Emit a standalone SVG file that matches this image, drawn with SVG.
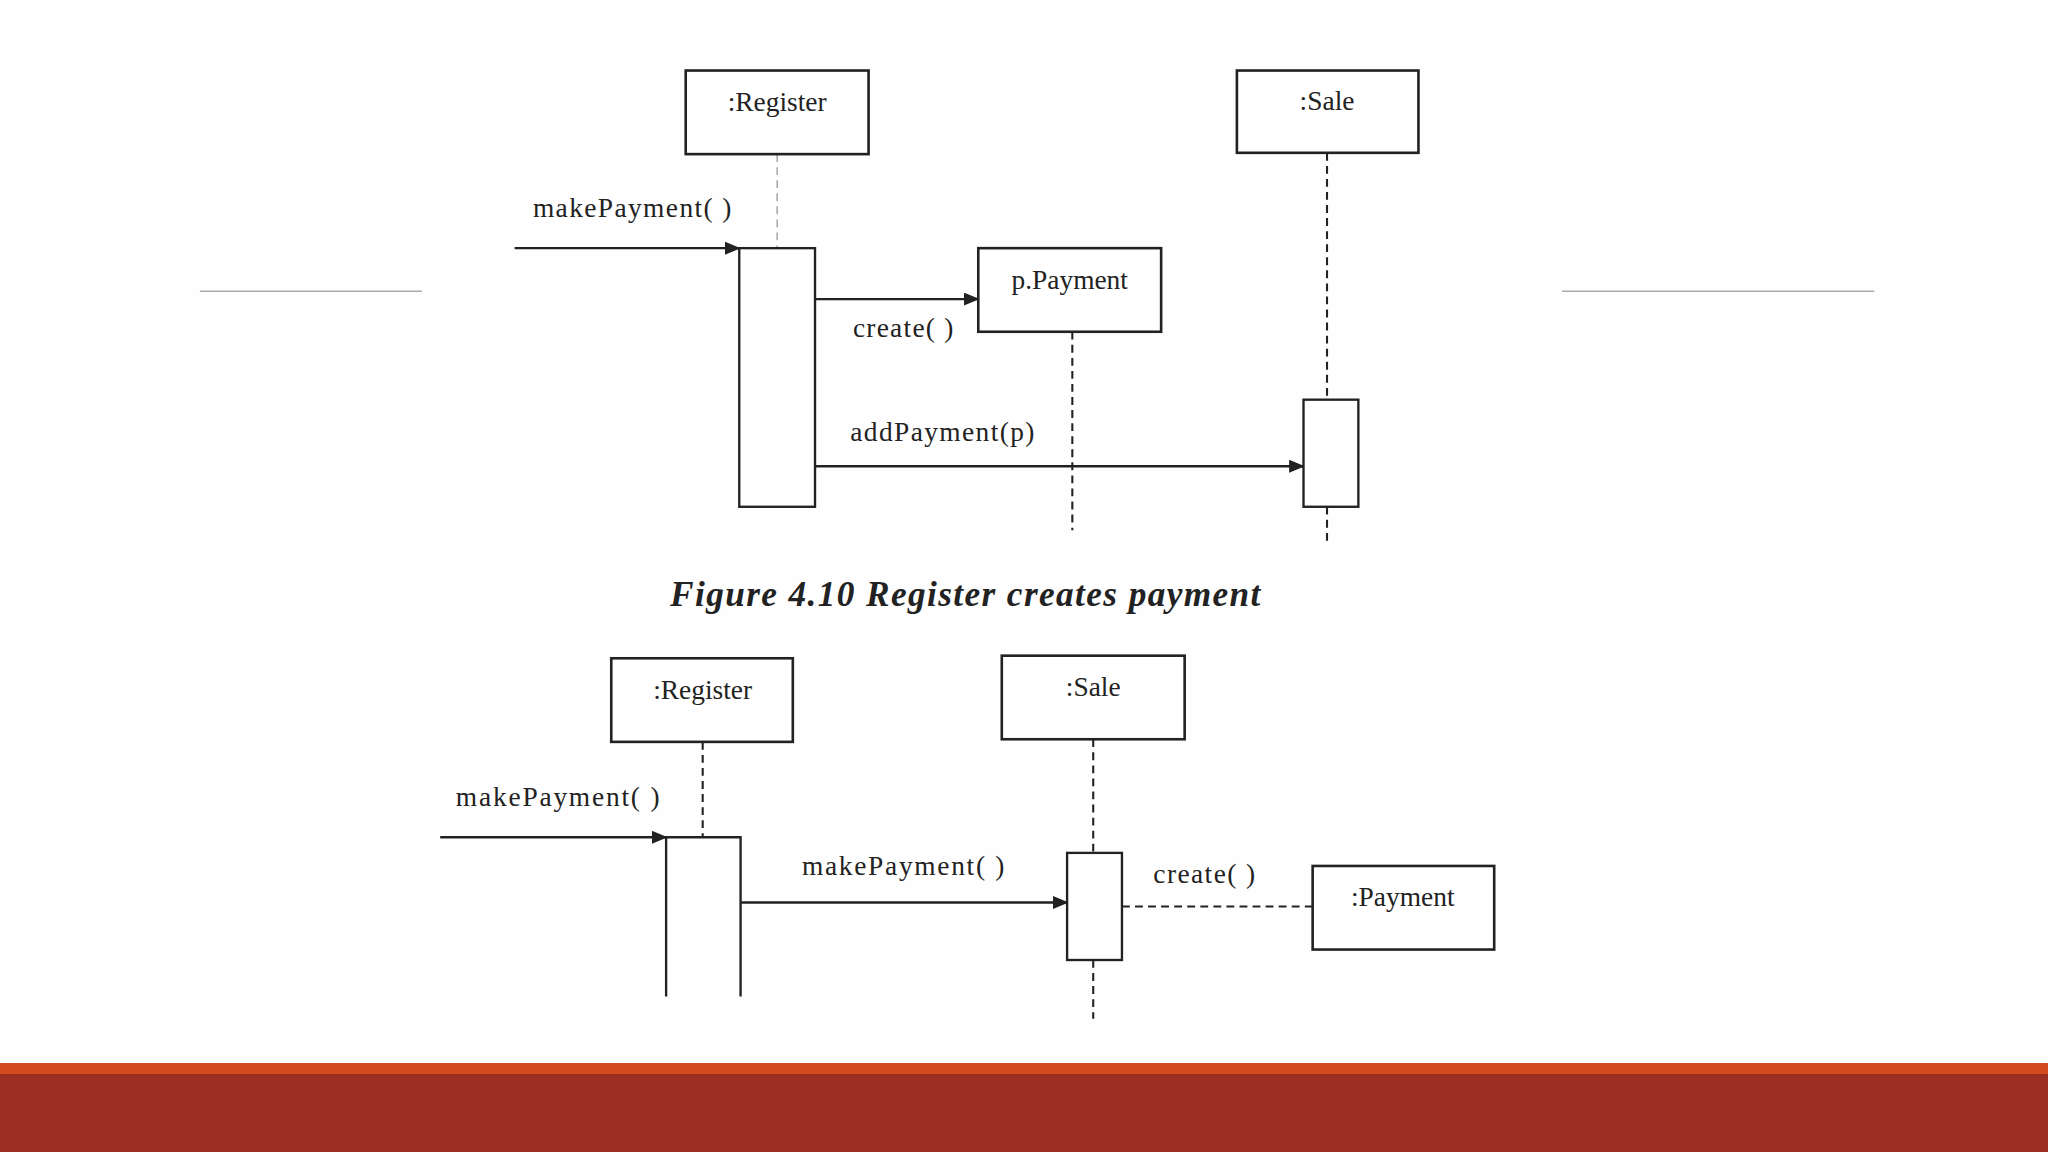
<svg xmlns="http://www.w3.org/2000/svg" width="2048" height="1152" viewBox="0 0 2048 1152">
<defs>
<style>
.box{fill:#fff;stroke:#222;stroke-width:2}
.act{fill:#fff;stroke:#222;stroke-width:1.8}
.t{font-family:"Liberation Serif",serif;font-size:21px;fill:#222}
.ll{stroke:#222;stroke-width:1.6;stroke-dasharray:6,4;fill:none}
.llg{stroke:#999;stroke-width:1;stroke-dasharray:6,4;fill:none}
.msg{stroke:#222;stroke-width:1.8;fill:none}
.cap{font-family:"Liberation Serif",serif;font-size:27px;font-weight:bold;font-style:italic;fill:#222}
</style>
<marker id="ah" markerWidth="12" markerHeight="10" refX="11" refY="5" orient="auto" markerUnits="userSpaceOnUse">
<path d="M0,0 L12,5 L0,10 Z" fill="#222"/>
</marker>
</defs>
<rect width="2048" height="1152" fill="#fefefe"/>
<g transform="scale(1.30612)">
<g id="rules">
<line x1="153" y1="223" x2="323" y2="223" stroke="#aaa" stroke-width="1"/>
<line x1="1196" y1="223" x2="1435" y2="223" stroke="#aaa" stroke-width="1"/>
</g>
<g id="connectors">
<line class="llg" x1="595" y1="118" x2="595" y2="190"/>
<line class="ll" x1="821" y1="254" x2="821" y2="406"/>
<line class="ll" x1="1016" y1="117" x2="1016" y2="306"/>
<line class="ll" x1="1016" y1="388" x2="1016" y2="415"/>
<line class="msg" x1="394" y1="190" x2="566" y2="190" marker-end="url(#ah)"/>
<line class="msg" x1="624" y1="229" x2="749" y2="229" marker-end="url(#ah)"/>
<line class="msg" x1="624" y1="357" x2="998" y2="357" marker-end="url(#ah)"/>
<text class="t" x="408" y="166" textLength="152">makePayment( )</text>
<text class="t" x="653" y="258" textLength="77">create( )</text>
<text class="t" x="651" y="338" textLength="141">addPayment(p)</text>

<line class="ll" x1="538" y1="568" x2="538" y2="640"/>
<line class="ll" x1="837" y1="566" x2="837" y2="653"/>
<line class="ll" x1="837" y1="735" x2="837" y2="780"/>
<line class="msg" x1="337" y1="641" x2="510" y2="641" marker-end="url(#ah)"/>
<line class="msg" x1="567" y1="691" x2="817" y2="691" marker-end="url(#ah)"/>
<line class="ll" x1="859" y1="694" x2="1005" y2="694"/>
<text class="t" x="349" y="617" textLength="156">makePayment( )</text>
<text class="t" x="614" y="670" textLength="155">makePayment( )</text>
<text class="t" x="883" y="676" textLength="78">create( )</text>
</g>
<g id="reg1"><rect class="box" x="525" y="54" width="140" height="64"/><text class="t" x="595" y="85" text-anchor="middle">:Register</text></g>
<g id="sale1"><rect class="box" x="947" y="54" width="139" height="63"/><text class="t" x="1016" y="84" text-anchor="middle">:Sale</text></g>
<g id="act-reg1"><rect class="act" x="566" y="190" width="58" height="198"/></g>
<g id="payment1"><rect class="box" x="749" y="190" width="140" height="64"/><text class="t" x="819" y="221" text-anchor="middle">p.Payment</text></g>
<g id="act-sale1"><rect class="act" x="998" y="306" width="42" height="82"/></g>
<text class="cap" x="739" y="464" text-anchor="middle" textLength="452">Figure 4.10 Register creates payment</text>

<g id="reg2"><rect class="box" x="468" y="504" width="139" height="64"/><text class="t" x="538" y="535" text-anchor="middle">:Register</text></g>
<g id="sale2"><rect class="box" x="767" y="502" width="140" height="64"/><text class="t" x="837" y="533" text-anchor="middle">:Sale</text></g>
<g id="act-reg2"><path class="act" d="M510,763 L510,641 L567,641 L567,763" fill="none"/></g>
<g id="act-sale2"><rect class="act" x="817" y="653" width="42" height="82"/></g>
<g id="payment2"><rect class="box" x="1005" y="663" width="139" height="64"/><text class="t" x="1074" y="694" text-anchor="middle">:Payment</text></g>
</g>
<rect x="0" y="1063" width="2048" height="11" fill="#D24A1E"/>
<rect x="0" y="1074" width="2048" height="78" fill="#9B2D23"/>
</svg>
